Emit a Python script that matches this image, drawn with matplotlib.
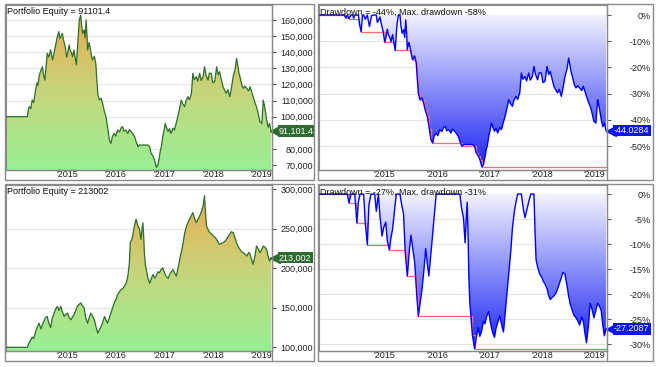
import numpy as np
import matplotlib.pyplot as plt
import matplotlib.transforms as mtransforms
from matplotlib.colors import LinearSegmentedColormap
from matplotlib.patches import Rectangle
from matplotlib.lines import Line2D

plt.rcParams['font.family'] = ['Liberation Sans', 'DejaVu Sans']

# equity curves (fractional year, equity)
eq1_t = [2013.94, 2014.38, 2014.40, 2014.42, 2014.45, 2014.48, 2014.51, 2014.55, 2014.58, 2014.60,
         2014.62, 2014.65, 2014.69, 2014.71, 2014.74, 2014.77, 2014.79, 2014.82, 2014.86, 2014.88,
         2014.90, 2014.94, 2014.97, 2015.00, 2015.03, 2015.05, 2015.07, 2015.10, 2015.13, 2015.16,
         2015.19, 2015.21, 2015.24, 2015.26, 2015.29, 2015.31, 2015.34, 2015.37, 2015.39, 2015.42,
         2015.45, 2015.48, 2015.50, 2015.52, 2015.55, 2015.57, 2015.59, 2015.61, 2015.62, 2015.65,
         2015.67, 2015.70, 2015.72, 2015.76, 2015.79, 2015.81, 2015.83, 2015.86, 2015.90, 2015.93,
         2015.96, 2016.00, 2016.04, 2016.07, 2016.10, 2016.13, 2016.17, 2016.20, 2016.24, 2016.28,
         2016.31, 2016.34, 2016.37, 2016.41, 2016.45, 2016.48, 2016.52, 2016.56, 2016.59, 2016.62,
         2016.66, 2016.69, 2016.83, 2016.86, 2016.90, 2016.93, 2016.97, 2017.00, 2017.04, 2017.07,
         2017.10, 2017.12, 2017.14, 2017.17, 2017.20, 2017.22, 2017.25, 2017.28, 2017.31, 2017.34,
         2017.38, 2017.41, 2017.45, 2017.48, 2017.52, 2017.55, 2017.58, 2017.62, 2017.65, 2017.69,
         2017.72, 2017.76, 2017.79, 2017.82, 2017.86, 2017.89, 2017.93, 2017.96, 2018.00, 2018.03,
         2018.06, 2018.10, 2018.13, 2018.17, 2018.20, 2018.24, 2018.26, 2018.28, 2018.31, 2018.34,
         2018.38, 2018.41, 2018.45, 2018.48, 2018.51, 2018.55, 2018.58, 2018.62, 2018.66, 2018.69,
         2018.72, 2018.74, 2018.76, 2018.80, 2018.83, 2018.86, 2018.90, 2018.94, 2018.97, 2019.00,
         2019.03, 2019.07, 2019.10, 2019.14, 2019.17, 2019.21, 2019.24, 2019.26, 2019.28, 2019.31,
         2019.34, 2019.37, 2019.40]
eq1_v = [100000, 100000, 104500, 106200, 105000, 110300, 108800, 116500, 121000, 119500,
         124800, 128000, 131000, 126500, 122700, 133000, 139300, 137000, 141400, 138000,
         135200, 141000, 145500, 150000, 152800, 148500, 149600, 151700, 147000, 143400,
         137000, 139300, 144500, 141400, 139500, 137200, 141400, 136000, 132100, 146000,
         160000, 163000, 156000, 151700, 153800, 149000, 160000, 150000, 141400, 146000,
         143400, 138000, 135200, 137500, 133100, 124000, 114500, 110300, 111500, 108300,
         104000, 100000, 92000, 85500, 83400, 87500, 89600, 88000, 91700, 90500,
         93000, 93800, 91000, 91700, 89500, 92000, 90700, 89000, 87600, 84500,
         81300, 82400, 82400, 82400, 81300, 77200, 75500, 73100, 68500, 70000,
         75100, 79000, 81300, 87600, 92000, 95800, 93000, 90700, 92500, 89600,
         93000, 91700, 96500, 100000, 105500, 110300, 108000, 106200, 110000, 112400,
         110500, 114500, 126900, 123000, 124800, 122000, 126900, 122500, 124800, 131000,
         126000, 122700, 127000, 126900, 121000, 121700, 126500, 131000, 126000, 127900,
         122500, 118600, 116000, 114500, 116800, 112400, 117000, 124800, 129500, 136200,
         131000, 127000, 124800, 119500, 117600, 119000, 117600, 116000, 118600, 115500,
         112400, 108500, 106200, 101500, 96900, 95800, 110300, 107500, 104100, 98000,
         93500, 95800, 91101.4]

eq2_t = [2013.94, 2014.38, 2014.41, 2014.44, 2014.48, 2014.51, 2014.55, 2014.58, 2014.62, 2014.64,
         2014.66, 2014.69, 2014.72, 2014.75, 2014.79, 2014.82, 2014.86, 2014.89, 2014.93, 2014.96,
         2015.00, 2015.03, 2015.07, 2015.10, 2015.14, 2015.17, 2015.21, 2015.24, 2015.28, 2015.31,
         2015.34, 2015.38, 2015.41, 2015.45, 2015.48, 2015.51, 2015.55, 2015.58, 2015.62, 2015.66,
         2015.69, 2015.72, 2015.76, 2015.80, 2015.83, 2015.86, 2015.90, 2015.94, 2015.97, 2016.00,
         2016.03, 2016.07, 2016.10, 2016.14, 2016.17, 2016.21, 2016.24, 2016.28, 2016.31, 2016.35,
         2016.38, 2016.42, 2016.45, 2016.48, 2016.50, 2016.53, 2016.55, 2016.58, 2016.60, 2016.62,
         2016.65, 2016.69, 2016.72, 2016.74, 2016.76, 2016.78, 2016.79, 2016.81, 2016.83, 2016.86,
         2016.90, 2016.93, 2016.97, 2017.00, 2017.03, 2017.07, 2017.10, 2017.13, 2017.17, 2017.20,
         2017.24, 2017.28, 2017.31, 2017.35, 2017.38, 2017.42, 2017.45, 2017.48, 2017.52, 2017.55,
         2017.59, 2017.62, 2017.66, 2017.69, 2017.72, 2017.76, 2017.79, 2017.83, 2017.86, 2017.90,
         2017.93, 2017.97, 2018.00, 2018.02, 2018.03, 2018.05, 2018.07, 2018.10, 2018.14, 2018.18,
         2018.21, 2018.25, 2018.28, 2018.31, 2018.34, 2018.38, 2018.41, 2018.45, 2018.48, 2018.52,
         2018.55, 2018.58, 2018.62, 2018.66, 2018.69, 2018.72, 2018.76, 2018.79, 2018.83, 2018.86,
         2018.90, 2018.94, 2018.97, 2019.00, 2019.03, 2019.07, 2019.10, 2019.14, 2019.17, 2019.21,
         2019.24, 2019.28, 2019.31, 2019.34, 2019.37, 2019.40]
eq2_v = [100000, 100000, 105000, 108000, 113000, 111000, 120000, 125000, 130500, 127000,
         123000, 128500, 132600, 137000, 139000, 131000, 125000, 136000, 143200, 148000,
         151700, 146500, 151700, 145000, 139000, 141500, 143200, 137500, 134800, 138500,
         141100, 147000, 151700, 154500, 156000, 153000, 149600, 138000, 130500, 138500,
         143200, 139500, 134800, 124500, 118000, 121500, 126300, 133000, 139000, 134500,
         130500, 137500, 143200, 150500, 156000, 161500, 166500, 170500, 172900, 174500,
         177100, 182000, 189800, 205000, 232200, 236000, 240700, 252000, 257000, 261900,
         255000, 249200, 236400, 248000, 257600, 236000, 219500, 205000, 198300, 188000,
         181000, 186500, 192000, 187500, 189800, 195500, 194100, 198000, 200400, 195000,
         189800, 187000, 192000, 195500, 198300, 193000, 189800, 199000, 211000, 220000,
         232200, 244000, 253400, 258000, 261900, 266500, 270300, 262000, 257600, 262500,
         266100, 272000, 278800, 287000, 291500, 270000, 253400, 249000, 244900, 243000,
         240700, 238500, 236400, 232500, 230100, 231500, 232200, 234000, 236400, 240000,
         242800, 246000, 244900, 238000, 232200, 227500, 223700, 221000, 219500, 218000,
         215300, 220000, 217400, 210500, 205000, 216000, 228000, 224000, 219500, 224000,
         228000, 226000, 223700, 215300, 209000, 213002]

years = [2015, 2016, 2017, 2018, 2019]
eq1_ticks = [70000, 80000, 100000, 110000, 120000, 130000, 140000, 150000, 160000]
eq2_ticks = [100000, 150000, 200000, 250000, 300000]
dd1_ticks = [0, -10, -20, -30, -40, -50]
dd2_ticks = [0, -5, -10, -15, -20, -25, -30]

titles = ['Portfolio Equity = 91101.4', 'Drawdown = -44%, Max. drawdown -58%',
          'Portfolio Equity = 213002', 'Drawdown = -27%, Max. drawdown -31%']
last_labels = ['91,101.4', '-44.0284', '213,002', '-27.2087']

W, H = 658, 367
XLIM = (2013.94, 2019.42)
FS = 6.5
fig = plt.figure(figsize=(W / 100, H / 100), dpi=100)

green_cm = LinearSegmentedColormap.from_list('eq', ['#98f094', '#c8d47a', '#f0a448'])
blue_cm = LinearSegmentedColormap.from_list('dd', ['#1822f4', '#ffffff'])


def px_rect(x0, y0, x1, y1):
    return [x0 / W, 1 - y1 / H, (x1 - x0) / W, (y1 - y0) / H]


def frame(x0, y0, x1, y1):
    fig.add_artist(Rectangle((x0 / W, 1 - y1 / H), (x1 - x0) / W, (y1 - y0) / H,
                             transform=fig.transFigure, fill=False, ec='#8a8a8a', lw=1))


def line(x0, y0, x1, y1):
    fig.add_artist(Line2D([x0 / W, x1 / W], [1 - y0 / H, 1 - y1 / H],
                          transform=fig.transFigure, color='#8a8a8a', lw=1))


def gradient_fill(ax, x, y, base, cmap, ylim):
    poly = ax.fill_between(x, y, base, facecolor='none', edgecolor='none')
    grad = np.linspace(0, 1, 256).reshape(-1, 1)
    im = ax.imshow(grad, extent=[XLIM[0], XLIM[1], ylim[0], ylim[1]], origin='lower',
                   aspect='auto', cmap=cmap, zorder=1)
    im.set_clip_path(poly.get_paths()[0], transform=ax.transData)


def make_panel(box, plot_right, ticks, ticklabels, title, last_val, last_txt, col, pad_pt):
    x0, y0, x1, y1 = box
    frame(x0, y0, x1, y1)
    ax = fig.add_axes(px_rect(x0 + 1, y0 + 1, plot_right, y1 - 10))
    line(x0, y1 - 10, plot_right, y1 - 10)
    line(plot_right, y0, plot_right, y1)
    for s in ax.spines.values():
        s.set_color('#8a8a8a')
    ax.set_xticks([])
    ax.yaxis.tick_right()
    ax.set_yticks(ticks)
    ax.set_yticklabels(ticklabels)
    ax.tick_params(axis='y', direction='out', length=3, color='#555555',
                   labelsize=FS, labelcolor='#222222', pad=pad_pt)
    for lbl in ax.get_yticklabels():
        lbl.set_ha('right')
    for t in ticks:
        ax.axhline(t, color='#e4e4e4', lw=0.8, zorder=0)
    ax.text(0.004, 0.985, title, transform=ax.transAxes, fontsize=FS, va='top', ha='left',
            color='#111111', zorder=12)
    for yr in years:
        ax.annotate("'%d" % yr, xy=(yr, 0), xycoords=('data', 'axes fraction'),
                    xytext=(-1, -5), textcoords='offset pixels', fontsize=FS,
                    ha='left', va='center', color='#222222', annotation_clip=False)
    # value marker on the price axis
    off = mtransforms.ScaledTranslation(3.5 / 100, 0, fig.dpi_scale_trans)
    tr = mtransforms.blended_transform_factory(ax.transAxes, ax.transData) + off
    ax.plot([1], [last_val], marker='<', ms=7, color=col, mec=col, transform=tr,
            clip_on=False, zorder=13)
    ax.annotate(last_txt, xy=(1, last_val), xycoords=('axes fraction', 'data'),
                xytext=(7, 0), textcoords='offset pixels', ha='left', va='center',
                fontsize=FS, color='white', annotation_clip=False, zorder=14,
                bbox=dict(boxstyle='square,pad=0.12', fc=col, ec='none'))
    return ax


def equity_panel(box, plot_right, t, v, ylim, ticks, title, last_txt, pad_pt):
    labels = ['{:,}'.format(k) for k in ticks]
    ax = make_panel(box, plot_right, ticks, labels, title, v[-1], last_txt, '#2f6a30', pad_pt)
    gradient_fill(ax, t, v, ylim[0] - 5000, green_cm, ylim)
    ax.plot(t, v, color='#2c6e2c', lw=0.9, zorder=3)
    ax.set_xlim(*XLIM)
    ax.set_ylim(*ylim)


def drawdown_panel(box, plot_right, t, v, ylim, ticks, title, last_txt, pad_pt):
    v = np.asarray(v, dtype=float)
    dd = (v / np.maximum.accumulate(v) - 1) * 100
    maxdd = np.minimum.accumulate(dd)
    labels = ['%d%%' % k for k in ticks]
    ax = make_panel(box, plot_right, ticks, labels, title, dd[-1], last_txt, '#0a14f0', pad_pt)
    gradient_fill(ax, t, dd, 0, blue_cm, ylim)
    ax.step(t, maxdd, where='post', color='#ff6b6b', lw=0.9, zorder=2)
    ax.plot(t, dd, color='#0000ff', lw=1.0, zorder=3)
    ax.set_xlim(*XLIM)
    ax.set_ylim(*ylim)


equity_panel((5, 4, 314, 180), 272, eq1_t, eq1_v, (66900, 169300), eq1_ticks,
             titles[0], last_labels[0], 26.6)
drawdown_panel((318, 4, 653, 180), 607, eq1_t, eq1_v, (-59.16, 3.82), dd1_ticks,
               titles[1], last_labels[1], 28.8)
equity_panel((5, 184, 314, 361), 272, eq2_t, eq2_v, (95340, 305085), eq2_ticks,
             titles[2], last_labels[2], 26.6)
drawdown_panel((318, 184, 653, 361), 607, eq2_t, eq2_v, (-31.33, 1.81), dd2_ticks,
               titles[3], last_labels[3], 28.8)

fig.savefig('out.png', dpi=100)
